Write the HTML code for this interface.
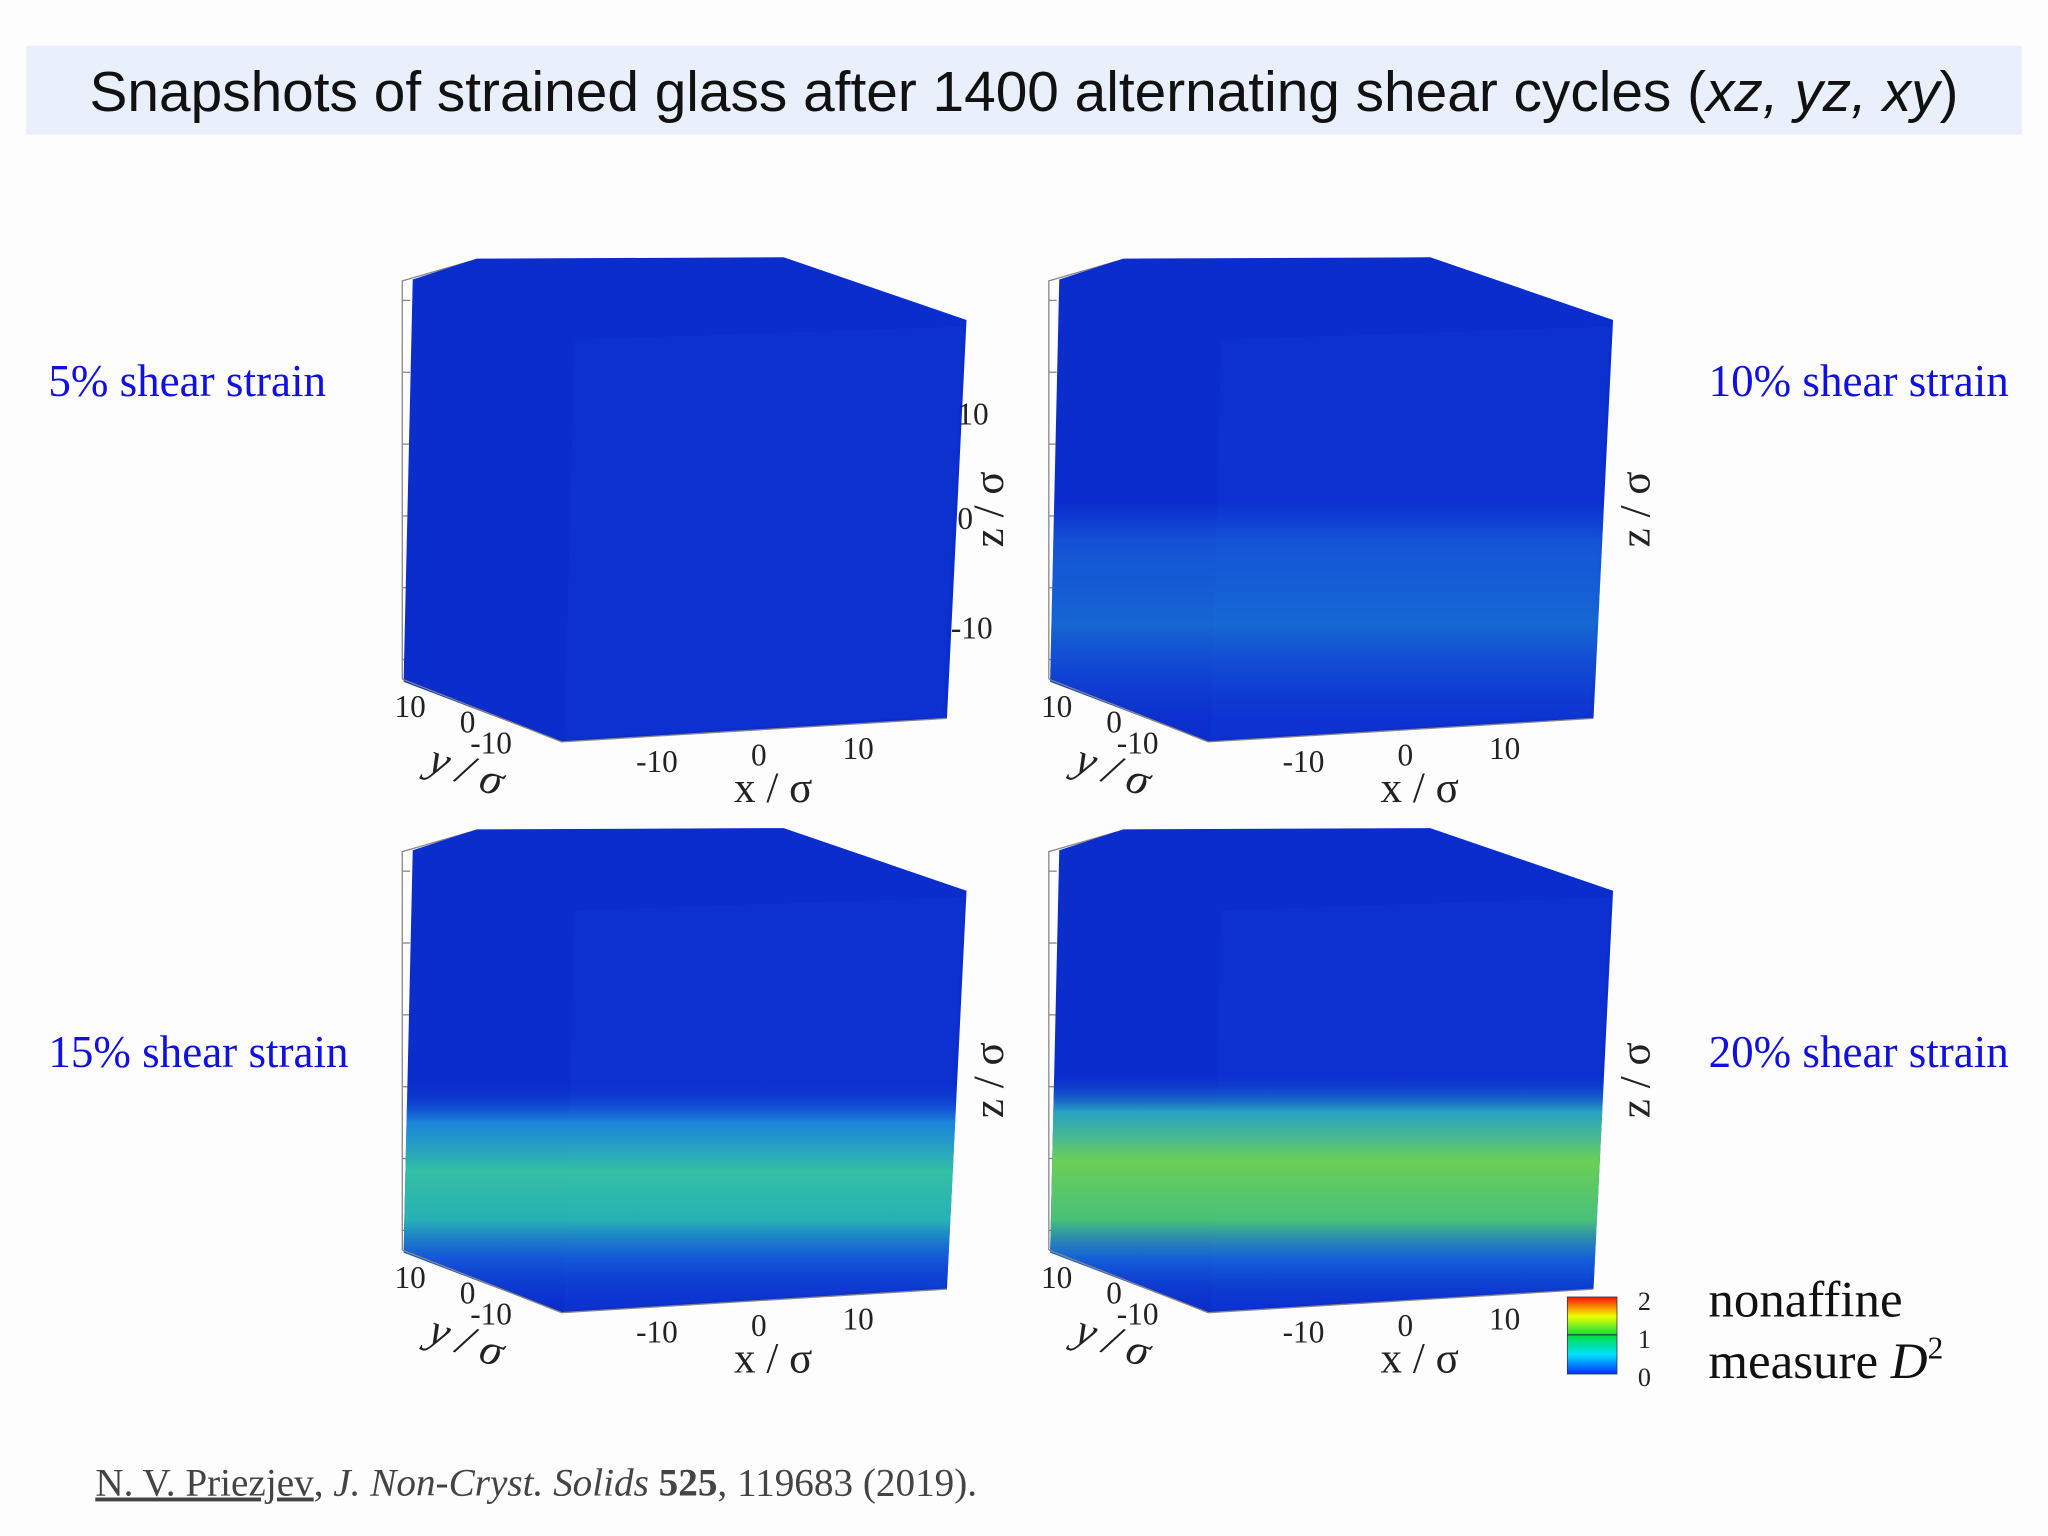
<!DOCTYPE html>
<html><head><meta charset="utf-8"><style>
body{margin:0;background:#fdfdfe}
svg{display:block}
</style></head><body>
<svg width="2048" height="1536" viewBox="0 0 1568 1176" xmlns="http://www.w3.org/2000/svg">
<defs>
<clipPath id="cube"><polygon points="316,214 365,198 600,197 740,245 725,550 430,568 309,522"/></clipPath>
<linearGradient id="g10" x1="0" y1="0" x2="0" y2="1">
 <stop offset="0" stop-color="#0a2fd0" stop-opacity="0"/><stop offset="0.5" stop-color="#1b6ee0" stop-opacity="0.0"/>
 <stop offset="0.58" stop-color="#1e7fe0" stop-opacity="0.45"/><stop offset="0.75" stop-color="#1f9fd8" stop-opacity="0.5"/>
 <stop offset="0.85" stop-color="#1a6fe0" stop-opacity="0.35"/><stop offset="1" stop-color="#0a2fd0" stop-opacity="0"/></linearGradient>
<linearGradient id="g15" x1="0" y1="0" x2="0" y2="1">
 <stop offset="0" stop-color="#0a2fd0" stop-opacity="0"/><stop offset="0.52" stop-color="#0a2fd0" stop-opacity="0"/>
 <stop offset="0.6" stop-color="#20a8e0" stop-opacity="0.7"/><stop offset="0.7" stop-color="#38d0a0" stop-opacity="0.9"/>
 <stop offset="0.8" stop-color="#2cc8b0" stop-opacity="0.85"/><stop offset="0.88" stop-color="#1a70e0" stop-opacity="0.6"/><stop offset="1" stop-color="#0a2fd0" stop-opacity="0"/></linearGradient>
<linearGradient id="g20" x1="0" y1="0" x2="0" y2="1">
 <stop offset="0" stop-color="#0a2fd0" stop-opacity="0"/><stop offset="0.5" stop-color="#0a2fd0" stop-opacity="0"/>
 <stop offset="0.58" stop-color="#30c0c0" stop-opacity="0.8"/><stop offset="0.68" stop-color="#70d850" stop-opacity="0.95"/>
 <stop offset="0.8" stop-color="#50d070" stop-opacity="0.9"/><stop offset="0.88" stop-color="#1a80e0" stop-opacity="0.6"/><stop offset="1" stop-color="#0a2fd0" stop-opacity="0"/></linearGradient>
<linearGradient id="cb" x1="0" y1="1" x2="0" y2="0">
 <stop offset="0" stop-color="#0030ff"/><stop offset="0.25" stop-color="#00e0ff"/><stop offset="0.5" stop-color="#00e040"/><stop offset="0.75" stop-color="#f0ff00"/><stop offset="1" stop-color="#ff1000"/></linearGradient>
</defs>

<rect x="20" y="35" width="1528" height="68" fill="#e9f0fb"/>
<text x="784" y="85" text-anchor="middle" font-family="Liberation Sans, sans-serif" font-size="43.5" fill="#111">Snapshots of strained glass after 1400 alternating shear cycles (<tspan font-style="italic">xz, yz, xy</tspan>)</text>

<g font-family="Liberation Serif, serif" font-size="34.5" fill="#1010e0">
<text x="37" y="303">5% shear strain</text>
<text x="1538" y="303" text-anchor="end">10% shear strain</text>
<text x="37" y="817">15% shear strain</text>
<text x="1538" y="817" text-anchor="end">20% shear strain</text>
</g>

<g id="panels"></g>

<g>
<rect x="1200" y="993" width="38" height="59" fill="url(#cb)" stroke="#333" stroke-width="0.6"/>
<line x1="1200" y1="1022" x2="1238" y2="1022" stroke="#222" stroke-width="0.8"/>
<g font-family="Liberation Serif, serif" font-size="20" fill="#222">
<text x="1254" y="1003">2</text><text x="1254" y="1032">1</text><text x="1254" y="1061">0</text></g>
</g>
<g font-family="Liberation Serif, serif" font-size="39" fill="#111">
<text x="1308" y="1008">nonaffine</text>
<text x="1308" y="1055">measure <tspan font-style="italic">D</tspan><tspan font-size="24" dy="-15">2</tspan></text>
</g>
<text x="73" y="1145" font-family="Liberation Serif, serif" font-size="30" fill="#444"><tspan text-decoration="underline">N. V. Priezjev</tspan>, <tspan font-style="italic">J. Non-Cryst. Solids</tspan> <tspan font-weight="bold">525</tspan>, 119683 (2019).</text>
</svg>
<script>
const panelNames=['panel-5pct','panel-10pct','panel-15pct','panel-20pct'];
const panelDx=[0,495,0,495];
const panelDy=[0,0,437,437];
const panelBands=[null,'g10','g15','g20'];
const NS='http://www.w3.org/2000/svg';
const root=document.getElementById('panels');
function mk(tag,attrs,parent){const e=document.createElementNS(NS,tag);for(const k in attrs)e.setAttribute(k,attrs[k]);parent.appendChild(e);return e;}
for(let i=0;i<4;i++){
 const g=mk('g',{transform:`translate(${panelDx[i]},${panelDy[i]})`},root);
 
 
 mk('polyline',{points:'308,520 308,215 360,200',fill:'none',stroke:'#888','stroke-width':1},g);
 for(let t=0;t<6;t++)mk('line',{x1:308,y1:230+t*55,x2:314,y2:230+t*55,stroke:'#888'},g);
 mk('polygon',{points:'316,214 365,198 600,197 740,245 725,550 430,568 309,522',fill:'#0b2dcc'},g);
 mk('polygon',{points:'440,260 738,250 722,548 432,566',fill:'#0e36d4',opacity:0.4},g);
 if(panelBands[i]){mk('rect',{x:300,y:197,width:450,height:375,fill:`url(#${panelBands[i]})`,'clip-path':'url(#cube)'},g);}
 mk('polyline',{points:'308,520 430,568 725,550',fill:'none',stroke:'#888','stroke-width':1},g);
 const tx=mk('g',{'font-family':'Liberation Serif, serif','font-size':'24',fill:'#222'},g);
 const lab=[['10',302,549],['0',352,561],['-10',360,577],['-10',487,591],['0',575,586],['10',645,581]];
 for(const l of lab){const t=mk('text',{x:l[1],y:l[2]},tx);t.textContent=l[0];}
 const y=mk('text',{x:326,y:590,'font-size':'34','font-style':'italic',transform:'rotate(20 326 590)'},tx);y.textContent='y / σ';
 const x=mk('text',{x:562,y:614,'font-size':'33'},tx);x.textContent='x / σ';
 if(i===0){
  for(const l of [['10',733,325],['0',733,405],['-10',728,489]]){const t=mk('text',{x:l[1],y:l[2]},tx);t.textContent=l[0];}
 }
 const z=mk('text',{x:768,y:390,'font-size':'33','text-anchor':'middle',transform:'rotate(-90 768 390)'},tx);z.textContent='z / σ';
 
 
}
</script>
</body></html>
